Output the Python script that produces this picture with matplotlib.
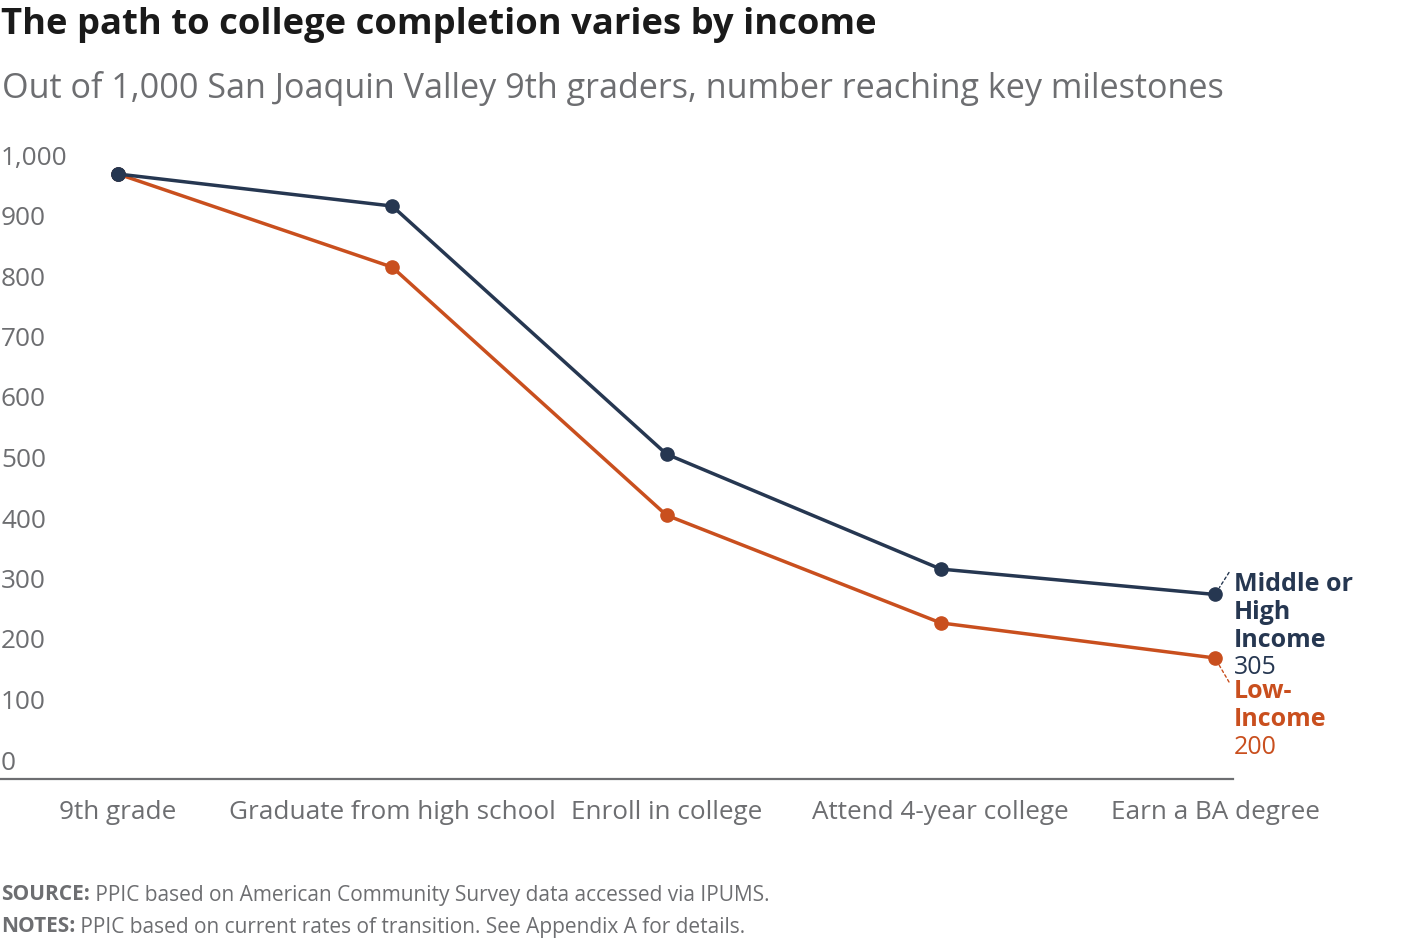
import matplotlib.pyplot as plt
from matplotlib import transforms

milestones = ['9th grade', 'Graduate from high school', 'Enroll in college',
              'Attend 4-year college', 'Earn a BA degree']
middle_high = [1000, 947, 537, 347, 305]
low_income = [1000, 846, 436, 258, 200]
y_ticks = [0, 100, 200, 300, 400, 500, 600, 700, 800, 900, 1000]

navy = '#263751'
orange = '#c94f1e'
gray = '#6d6e71'
font = 'Open Sans'

plt.rcParams['font.family'] = [font, 'DejaVu Sans']

W, H = 1402, 940
fig = plt.figure(figsize=(W / 100, H / 100), dpi=100)
ax = fig.add_axes([0 / W, (H - 779) / H, 1233 / W, 605 / H])

x = list(range(len(milestones)))
ax.plot(x, middle_high, color=navy, lw=2.5, marker='o', ms=9.5, clip_on=False, zorder=3)
ax.plot(x, low_income, color=orange, lw=2.5, marker='o', ms=9.5, clip_on=False, zorder=2)
# first point overlaps, navy on top
ax.plot(x[:1], middle_high[:1], color=navy, marker='o', ms=9.5, clip_on=False, zorder=4)

ax.set_xlim(-118 / 274.25, (1233 - 118) / 274.25)
ax.set_ylim(0, 1000)

for s in ['top', 'right', 'left']:
    ax.spines[s].set_visible(False)
ax.spines['bottom'].set_color(gray)
ax.spines['bottom'].set_linewidth(1.6)
ax.set_yticks([])
ax.set_xticks(x)
ax.set_xticklabels(milestones, fontsize=18.8, color=gray)
ax.tick_params(axis='x', length=0, pad=15)

# y labels sit above their value
trans = transforms.offset_copy(ax.get_yaxis_transform(), fig=fig, x=1, y=16, units='dots')
for v in y_ticks:
    ax.text(0, v, f'{v:,}', transform=trans, ha='left', va='center',
            fontsize=18.8, color=gray)

# end labels
def end_label(y, lines, color, dy_leader):
    ax.annotate('', xy=(x[-1], y), xytext=(14, dy_leader), textcoords='offset pixels',
                arrowprops=dict(arrowstyle='-', color=color, lw=1, linestyle=(0, (2, 2)),
                                shrinkA=0, shrinkB=6), annotation_clip=False)
    for dy, txt, weight in lines:
        ax.annotate(txt, xy=(x[-1], y), xytext=(19, dy), textcoords='offset pixels',
                    ha='left', va='center', fontsize=18, color=color,
                    fontweight=weight, annotation_clip=False)

end_label(middle_high[-1], [(10, 'Middle or', 'bold'), (-18, 'High', 'bold'),
                            (-46, 'Income', 'bold'), (-73, f'{middle_high[-1]}', 'normal')],
          navy, 22)
end_label(low_income[-1], [(-34, 'Low-', 'bold'), (-62, 'Income', 'bold'),
                           (-89, f'{low_income[-1]}', 'normal')],
          orange, -24)

# titles
fig.text(1 / W, 1 - 25 / H, 'The path to college completion varies by income',
         fontsize=26.2, fontweight='bold', color='#1a1a1a', ha='left', va='center')
fig.text(2 / W, 1 - 88 / H, 'Out of 1,000 San Joaquin Valley 9th graders, number reaching key milestones',
         fontsize=24.6, color=gray, ha='left', va='center')

# footer
for yy, head, rest in [(895, 'SOURCE:', ' PPIC based on American Community Survey data accessed via IPUMS.'),
                       (927, 'NOTES:', ' PPIC based on current rates of transition. See Appendix A for details.')]:
    t = fig.text(1 / W, 1 - yy / H, head, fontsize=15, fontweight='bold', color=gray,
                 ha='left', va='center')
    fig.canvas.draw()
    bb = t.get_window_extent()
    fig.text(bb.x1 / W, 1 - yy / H, rest, fontsize=15, color=gray, ha='left', va='center')

fig.savefig('out.png', dpi=100)
